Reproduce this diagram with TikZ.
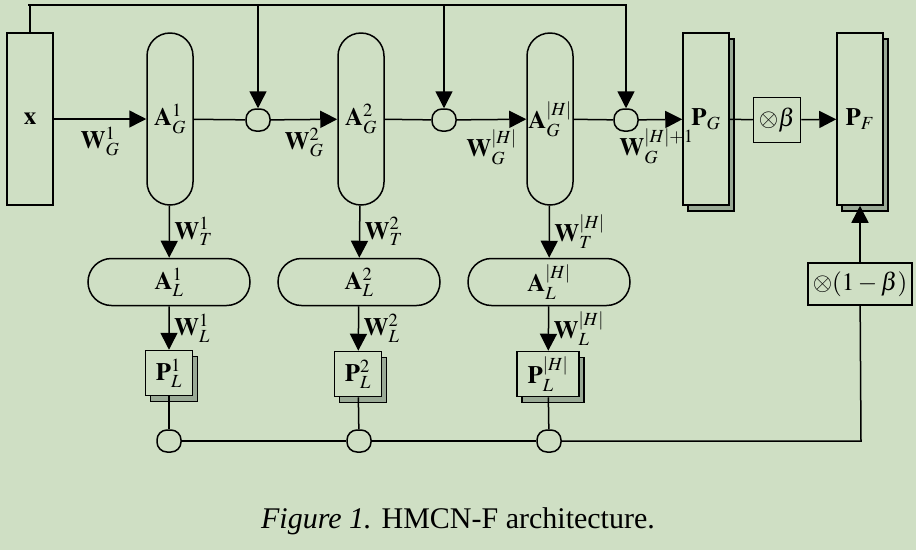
\documentclass[tikz,border=0pt]{standalone}
\usepackage{mathptmx}
\usepackage[no-math]{fontspec}
\setmainfont{Liberation Serif}
\usetikzlibrary{arrows.meta,shapes.misc}
\definecolor{bg}{HTML}{CFDFC4}
\definecolor{shade}{HTML}{9AAA96}
\begin{document}
\begin{tikzpicture}[x=1pt,y=-1pt,font=\fontsize{25}{28}\selectfont,
  line width=1.5pt,
  arr/.style={-{Triangle[length=17pt,width=17pt]}},
  tall/.style={draw,fill=bg,minimum width=46pt,minimum height=172pt,inner sep=0pt},
  gpill/.style={draw,rounded corners=23pt,minimum width=46pt,minimum height=172pt,inner sep=0pt},
  lpill/.style={draw,rounded rectangle,minimum width=162pt,minimum height=47pt,inner sep=0pt},
  sbox/.style={draw,fill=bg,minimum width=47pt,minimum height=45pt,inner sep=0pt},
  junc/.style={draw,rounded corners=10pt,minimum width=24pt,minimum height=22pt,inner sep=0pt},
  shadowed/.style={preaction={draw,fill=shade,transform canvas={shift={(5pt,-6pt)}}}}]
\useasboundingbox[fill=bg] (0,0) rectangle (916,550);
% top row
\node[tall] (x) at (30,119) {$\mathbf{x}$};
\node[gpill] (g1) at (170,119) {$\mathbf{A}_G^1$};
\node[gpill] (g2) at (361,119) {$\mathbf{A}_G^2$};
\node[gpill] (g3) at (550,119) {$\mathbf{A}_G^{|H|}$};
\node[junc] (c1) at (258,120) {};
\node[junc] (c2) at (444,120) {};
\node[junc] (c3) at (626,120) {};
\node[tall,shadowed] (pg) at (706,119) {$\mathbf{P}_G$};
\node[sbox] (beta) at (777,120) {$\otimes\beta$};
\node[tall,shadowed] (pf) at (860,119) {$\mathbf{P}_F$};
\node[draw,fill=bg,minimum width=104pt,minimum height=42pt,inner sep=0pt] (omb) at (860,284) {$\otimes(1-\beta)$};
% local rows
\node[lpill] (l1) at (169,282) {$\mathbf{A}_L^1$};
\node[lpill] (l2) at (359,282) {$\mathbf{A}_L^2$};
\node[lpill] (l3) at (549,282) {$\mathbf{A}_L^{|H|}$};
\node[sbox,shadowed] (p1) at (169,373) {$\mathbf{P}_L^1$};
\node[sbox,shadowed] (p2) at (358,374) {$\mathbf{P}_L^2$};
\node[sbox,shadowed,minimum width=62pt] (p3) at (548,374) {$\mathbf{P}_L^{|H|}$};
\node[junc] (b1) at (169,441) {};
\node[junc] (b2) at (359,441) {};
\node[junc] (b3) at (549,441) {};
\coordinate (tl) at (28,5);
\coordinate (t1) at (258,5);
\coordinate (t2) at (444,5);
\coordinate (br) at (861,441);
% connectors
\draw[arr] (x) -- node[below=4pt] {$\mathbf{W}_G^1$} (g1);
\draw (g1) -- (c1);
\draw[arr] (c1) -- node[below=4pt] {$\mathbf{W}_G^2$} (g2);
\draw (g2) -- (c2);
\draw[arr] (c2) -- node[below=6pt] {$\mathbf{W}_G^{|H|}$} (g3);
\draw (g3) -- (c3);
\draw[arr] (c3) -- node[below=5pt,xshift=-4pt] {$\mathbf{W}_G^{|H|+1}$} (pg);
\draw (pg) -- (beta);
\draw[arr] (beta) -- (pf);
\draw[arr] (x.north) |- (tl) -| (c3.north);
\draw[arr] (t1) -- (c1.north);
\draw[arr] (t2) -- (c2.north);
\draw[arr] (g1) -- node[right=1pt] {$\mathbf{W}_T^1$} (l1);
\draw[arr] (g2) -- node[right=1pt] {$\mathbf{W}_T^2$} (l2);
\draw[arr] (g3) -- node[right=1pt] {$\mathbf{W}_T^{|H|}$} (l3);
\draw[arr] (l1) -- node[right=1pt] {$\mathbf{W}_L^1$} (p1);
\draw[arr] (l2) -- node[right=1pt] {$\mathbf{W}_L^2$} (p2);
\draw[arr] (l3) -- node[right=1pt] {$\mathbf{W}_L^{|H|}$} (p3);
\draw (p1) -- (b1); \draw (p2) -- (b2); \draw (p3) -- (b3);
\draw (b1) -- (b2); \draw (b2) -- (b3);
\draw (b3) -- (br) -- (omb);
\draw[arr] (omb) -- (pf);
\node[font=\fontsize{30}{34}\selectfont] (cap) at (458,521) {\textit{Figure 1.} HMCN-F architecture.};
\end{tikzpicture}
\end{document}
